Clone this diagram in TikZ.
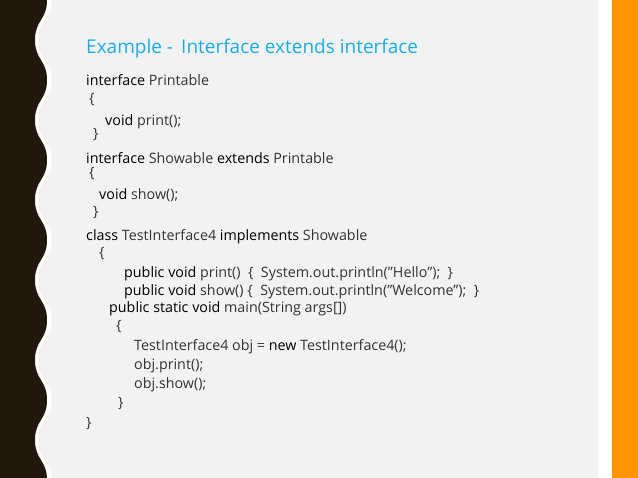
\documentclass[tikz,border=0pt]{standalone}
\usepackage{fontspec}
\setmainfont{Open Sans}
\newcommand{\qq}{\char34\relax}
\begin{document}
\begin{tikzpicture}[x=1pt,y=-1pt,
 code/.style={anchor=base west,inner sep=0pt,font=\fontsize{14.3}{16}\selectfont,text=black!80}]
\useasboundingbox (0,0) rectangle (638,478);
\fill[black!5] (0,0) rectangle (638,478);
\fill[white] (598,0) rectangle (638,478);
\fill[orange!85!yellow] (612,0) rectangle (638,478);
\fill[white] (0,0) -- (52,0)
 \foreach \k in {0,...,6}{ .. controls (52,{\k*80+20}) and (38,{\k*80+20}) .. (38,{\k*80+40}) .. controls (38,{\k*80+60}) and (52,{\k*80+60}) .. (52,{\k*80+80})} -- (0,560) -- cycle;
\fill[black!80!brown!90!black] (0,0) -- (47,0)
 \foreach \k in {0,...,6}{ .. controls (47,{\k*80+20}) and (35,{\k*80+20}) .. (35,{\k*80+40}) .. controls (35,{\k*80+60}) and (47,{\k*80+60}) .. (47,{\k*80+80})} -- (0,560) -- cycle;
\fill[white] (0,478) rectangle (60,490);
\node[anchor=base west,inner sep=0pt,font=\fontsize{19}{22}\selectfont,text={rgb,255:red,28;green,173;blue,228}] (t) at (86,54) {Example -\, Interface extends interface};
\node[code] (l1) at (86,86) {\textcolor{black}{interface} Printable};
\node[code] (l2) at (89,104) {\{};
\node[code] (l3) at (105,126) {\textcolor{black}{void} print();};
\node[code] (l4) at (93,139) {\}};
\node[code] (l5) at (86,164) {\textcolor{black}{interface} Showable \textcolor{black}{extends} Printable};
\node[code] (l6) at (89,178) {\{};
\node[code] (l7) at (99,200) {\textcolor{black}{void} show();};
\node[code] (l8) at (93,217) {\}};
\node[code] (l9) at (86,241) {\textcolor{black}{class} TestInterface4 \textcolor{black}{implements} Showable};
\node[code] (l10) at (99,258) {\{};
\node[code] (l11) at (124,278) {\textcolor{black}{public void} print()\ \ \{\ \ System.out.println(\qq Hello\qq);\ \ \}};
\node[code] (l12) at (124,296) {\textcolor{black}{public void} show() \{\ \ System.out.println(\qq Welcome\qq);\ \ \}};
\node[code] (l13) at (109,313) {\textcolor{black}{public static void} main(String args[])};
\node[code] (l14) at (116,331) {\{};
\node[code] (l15) at (134,351) {TestInterface4 obj = \textcolor{black}{new} TestInterface4();};
\node[code] (l16) at (134,370) {obj.print();};
\node[code] (l17) at (134,389) {obj.show();};
\node[code] (l18) at (118,408) {\}};
\node[code] (l19) at (86,428) {\}};
\end{tikzpicture}
\end{document}
